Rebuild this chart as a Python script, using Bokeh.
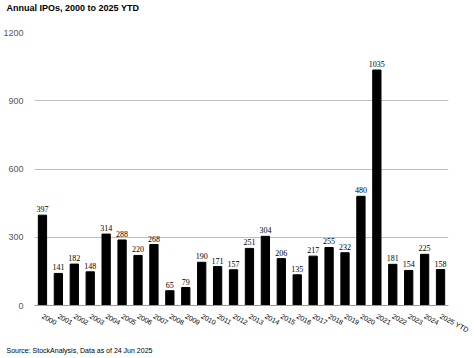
from bokeh.plotting import figure
from bokeh.models import ColumnDataSource, Range1d, FixedTicker, Title, LabelSet
from bokeh.embed import file_html
from bokeh.resources import INLINE

years = ["2000", "2001", "2002", "2003", "2004", "2005", "2006", "2007", "2008",
         "2009", "2010", "2011", "2012", "2013", "2014", "2015", "2016", "2017",
         "2018", "2019", "2020", "2021", "2022", "2023", "2024", "2025 YTD"]
ipos = [397, 141, 182, 148, 314, 288, 220, 268, 65, 79, 190, 171, 157, 251,
        304, 206, 135, 217, 255, 232, 480, 1035, 181, 154, 225, 158]
y_ticks = [0, 300, 600, 900, 1200]
y_tick_labels = {0: "0", 300: "300", 600: "600", 900: "900", 1200: "1200"}
title_text = "Annual IPOs, 2000 to 2025 YTD"
source_text = "Source: StockAnalysis, Data as of 24 Jun 2025"

src = ColumnDataSource(dict(x=years, y=ipos, lab=[str(v) for v in ipos]))

p = figure(width=474, height=358, x_range=years, y_range=Range1d(0, 1200),
           output_backend="svg", toolbar_location=None, title=None,
           min_border_left=30, min_border_right=26, min_border_top=3,
           min_border_bottom=10)

# spacer panel between title and plot area, then the title itself
p.add_layout(Title(text=" ", text_font="Liberation Sans", text_font_size="9px",
                   standoff=8), "above")
p.add_layout(Title(text=title_text, text_font="Liberation Sans",
                   text_font_size="9px", text_font_style="bold",
                   text_color="#000000", offset=-28, standoff=0), "above")

p.add_layout(Title(text=source_text,
                   text_font="Liberation Sans", text_font_size="7px",
                   text_font_style="normal", text_color="#000000",
                   offset=-28, standoff=10), "below")

p.vbar(x="x", top="y", width=0.52, source=src, color="#000000")
p.add_layout(LabelSet(x="x", y="y", text="lab", source=src, text_align="center",
                      text_baseline="bottom", y_offset=3, text_font_size="8px",
                      text_font="Liberation Serif", text_color="#000000"))

p.outline_line_color = None
p.background_fill_color = "#ffffff"
p.border_fill_color = "#ffffff"

p.xgrid.grid_line_color = None
p.ygrid.grid_line_color = "#bfbfbf"
p.ygrid.grid_line_width = 1

p.yaxis.ticker = FixedTicker(ticks=y_ticks)
p.yaxis.major_label_overrides = y_tick_labels
p.yaxis.axis_line_color = None
p.yaxis.major_tick_line_color = None
p.yaxis.minor_tick_line_color = None
p.yaxis.major_label_text_font = "Liberation Sans"
p.yaxis.major_label_text_font_size = "9px"
p.yaxis.major_label_text_color = "#595959"
p.yaxis.major_label_standoff = 5

p.xaxis.axis_line_color = "#999999"
p.xaxis.major_tick_line_color = None
p.xaxis.minor_tick_line_color = None
p.xaxis.major_label_orientation = -0.5
p.xaxis.major_label_text_font = "Liberation Sans"
p.xaxis.major_label_text_font_size = "7px"
p.xaxis.major_label_text_color = "#000000"
p.xaxis.major_label_standoff = 4

p.x_range.range_padding = 0

open("out.html", "w").write(file_html(p, INLINE))
